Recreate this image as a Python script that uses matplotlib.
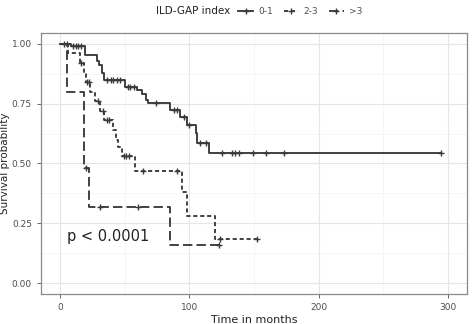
import numpy as np
import matplotlib
matplotlib.use("Agg")
import matplotlib.pyplot as plt
from matplotlib.lines import Line2D

# Kaplan-Meier steps (time in months, survival after the step)
groups = ["0-1", "2-3", ">3"]

g1_event_t = [8, 19, 28, 30, 32, 34, 50, 59, 63, 66, 68, 85, 93, 98, 105, 106, 115]
g1_surv = [0.99, 0.955, 0.93, 0.91, 0.88, 0.85, 0.82, 0.807, 0.79, 0.766, 0.752,
           0.724, 0.696, 0.66, 0.628, 0.585, 0.544]
g1_censor_t = [3, 5, 10, 12, 14, 16, 36, 39, 41, 44, 46, 52, 54, 57, 74, 88, 90, 96,
               100, 108, 113, 125, 133, 135.6, 138, 149, 159, 173, 294.6]

g2_event_t = [6, 15, 18, 20, 23, 27, 31, 34, 41, 43, 45, 48, 58, 94, 98, 120]
g2_surv = [0.96, 0.92, 0.88, 0.84, 0.80, 0.76, 0.72, 0.68, 0.64, 0.60, 0.57, 0.53,
           0.467, 0.38, 0.28, 0.183]
g2_censor_t = [16, 21, 22, 29, 33, 36, 38, 49, 51, 53, 64, 90, 124, 152.5]

g3_event_t = [5, 18, 22, 85]
g3_surv = [0.8, 0.48, 0.32, 0.16]
g3_censor_t = [19.5, 31, 60, 122.5]

p_text = "p < 0.0001"

color = "#3a3a3a"
styles = {
    "0-1": dict(linestyle="-"),
    "2-3": dict(linestyle=(0, (2.2, 1.5))),
    ">3": dict(linestyle=(0, (5.0, 2.2))),
}

fig = plt.figure(figsize=(4.74, 3.24), dpi=100)
ax = fig.add_axes([0.0865, 0.093, 0.899, 0.805])

data = [
    (g1_event_t, g1_surv, g1_censor_t),
    (g2_event_t, g2_surv, g2_censor_t),
    (g3_event_t, g3_surv, g3_censor_t),
]

for name, (et, sv, ct) in zip(groups, data):
    t = np.array([0] + et)
    s = np.array([1.0] + sv)
    t_end = max(max(ct), t[-1])
    tt = np.append(t, t_end)
    ss = np.append(s, s[-1])
    ax.step(tt, ss, where="post", color=color, lw=1.35, **styles[name])
    idx = np.searchsorted(t, ct, side="right") - 1
    ax.plot(ct, s[idx], linestyle="none", marker="+", color=color,
            markersize=5, markeredgewidth=1.0)

# theme_bw look
ax.set_xlim(-15, 315)
ax.set_ylim(-0.045, 1.045)
ax.set_xticks([0, 100, 200, 300])
ax.set_yticks([0, 0.25, 0.5, 0.75, 1.0])
ax.set_yticklabels(["0.00", "0.25", "0.50", "0.75", "1.00"])
ax.set_xticks([50, 150, 250], minor=True)
ax.set_yticks([0.125, 0.375, 0.625, 0.875], minor=True)
ax.grid(True, which="major", color="#e6e6e6", lw=0.8)
ax.grid(True, which="minor", color="#f2f2f2", lw=0.5)
ax.set_axisbelow(True)
ax.tick_params(which="major", labelsize=6.5, colors="#4d4d4d", length=3, width=0.6)
ax.tick_params(which="minor", length=0)
for sp in ax.spines.values():
    sp.set_color("#8a8a8a")
    sp.set_linewidth(0.9)

ax.set_xlabel("Time in months", fontsize=8, color="#222222", labelpad=2)
ax.set_ylabel("Survival probability", fontsize=7.5, color="#222222")
ax.yaxis.set_label_coords(-0.072, 0.5)

ax.text(5, 0.195, p_text, fontsize=10.5, ha="left", va="center", color="#222222")

# legend on top, title to the left of the keys
fig.text(0.485, 0.965, "ILD-GAP index", fontsize=7.5, ha="right", va="center",
         color="#222222")
handles = [Line2D([], [], color=color, lw=1.35, marker="+", markersize=5,
                  markeredgewidth=1.0, **styles[g]) for g in groups]
fig.legend(handles, groups, loc="center left", bbox_to_anchor=(0.503, 0.965),
           ncol=3, frameon=False, fontsize=6.5, handlelength=1.6,
           handletextpad=0.6, columnspacing=1.2, labelcolor="#4d4d4d",
           borderaxespad=0, borderpad=0)

plt.savefig("out.png", dpi=100)
